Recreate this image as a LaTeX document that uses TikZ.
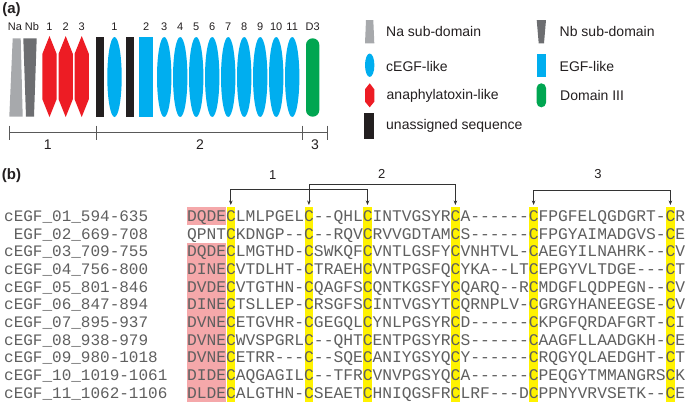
\documentclass[tikz,border=0pt]{standalone}
\usepackage{fontspec}
\setmainfont{Liberation Sans}
\setmonofont{Liberation Mono}
\usetikzlibrary{arrows.meta}
\definecolor{nagray}{RGB}{167,169,172}
\definecolor{nbgray}{RGB}{109,110,113}
\definecolor{anared}{RGB}{237,28,36}
\definecolor{egfblue}{RGB}{0,174,239}
\definecolor{dthreegreen}{RGB}{0,166,81}
\definecolor{unblack}{RGB}{35,31,32}
\definecolor{seqpink}{RGB}{245,168,170}
\definecolor{cysyellow}{RGB}{255,242,0}
\definecolor{seqgray}{RGB}{95,95,95}
\tikzset{
	panel/.style={inner sep=0pt, font=\bfseries\fontsize{15}{17}\selectfont, text=unblack},
	domlabel/.style={inner sep=0pt, font=\fontsize{11}{13}\selectfont, text=unblack},
	leglabel/.style={anchor=west, inner sep=0pt, font=\fontsize{14}{16}\selectfont, text=unblack},
	spanlabel/.style={inner sep=0pt, font=\fontsize{14}{16}\selectfont, text=unblack},
	bridgelabel/.style={inner sep=0pt, font=\fontsize{13}{15}\selectfont, text=unblack},
	seqname/.style={anchor=base west, inner sep=0pt, font=\ttfamily\fontsize{16}{18}\selectfont, text=seqgray},
	seqtext/.style={anchor=base west, inner sep=0pt, font=\ttfamily\fontsize{16.28}{18}\selectfont, text=seqgray},
	bond/.style={{Stealth[length=4.5pt,width=3.5pt]}-{Stealth[length=4.5pt,width=3.5pt]}, line width=0.7pt, draw=black!80},
	spanline/.style={line width=0.8pt, draw=black!65}
}

\begin{document}
\begin{tikzpicture}[x=1pt, y=-1pt]
			%%%%% START %%%%%
			\useasboundingbox (0, 0) rectangle (685, 410);
			
			%% (a) domain layout
			\node[panel] (pa) at (11.5, 10) {(a)};
			
			\fill[nagray] (12.7, 38.3) -- (20.7, 38.3) -- (22.7, 116.7) -- (9.3, 116.7) -- cycle;
			\fill[nbgray] (23.3, 38.3) -- (36.7, 38.3) -- (34, 116.7) -- (26, 116.7) -- cycle;
			
			\fill[anared] (49.5, 36) -- (56.7, 54) -- (56.7, 99) -- (49.5, 117) -- (42.3, 99) -- (42.3, 54) -- cycle;
			\fill[anared] (65.7, 36) -- (72.9, 54) -- (72.9, 99) -- (65.7, 117) -- (58.5, 99) -- (58.5, 54) -- cycle;
			\fill[anared] (81.7, 36) -- (88.9, 54) -- (88.9, 99) -- (81.7, 117) -- (74.5, 99) -- (74.5, 54) -- cycle;
			
			\fill[unblack] (96, 37) rectangle (104, 117);
			\fill[egfblue] (114.5, 77) ellipse [x radius=7.2, y radius=40];
			\fill[unblack] (126, 37) rectangle (134, 117);
			\fill[egfblue] (139.3, 37) rectangle (153.3, 117);
			
			\fill[egfblue] (164.2, 77) ellipse [x radius=7.2, y radius=40];
			\fill[egfblue] (180.2, 77) ellipse [x radius=7.2, y radius=40];
			\fill[egfblue] (196.2, 77) ellipse [x radius=7.2, y radius=40];
			\fill[egfblue] (212.2, 77) ellipse [x radius=7.2, y radius=40];
			\fill[egfblue] (228.2, 77) ellipse [x radius=7.2, y radius=40];
			\fill[egfblue] (244.2, 77) ellipse [x radius=7.2, y radius=40];
			\fill[egfblue] (260.2, 77) ellipse [x radius=7.2, y radius=40];
			\fill[egfblue] (276.2, 77) ellipse [x radius=7.2, y radius=40];
			\fill[egfblue] (292.2, 77) ellipse [x radius=7.2, y radius=40];
			
			\fill[dthreegreen, rounded corners=6.6] (306, 38.3) rectangle (319.3, 116.7);
			
			\node[domlabel] (lna) at (15, 27) {Na};
			\node[domlabel] (lnb) at (32, 27) {Nb};
			\node[domlabel] (lan1) at (49.5, 27) {1};
			\node[domlabel] (lan2) at (65.7, 27) {2};
			\node[domlabel] (lan3) at (81.7, 27) {3};
			\node[domlabel] (leg1) at (114.5, 27) {1};
			\node[domlabel] (leg2) at (146.3, 27) {2};
			\node[domlabel] (leg3) at (164.2, 27) {3};
			\node[domlabel] (leg4) at (180.2, 27) {4};
			\node[domlabel] (leg5) at (196.2, 27) {5};
			\node[domlabel] (leg6) at (212.2, 27) {6};
			\node[domlabel] (leg7) at (228.2, 27) {7};
			\node[domlabel] (leg8) at (244.2, 27) {8};
			\node[domlabel] (leg9) at (260.2, 27) {9};
			\node[domlabel] (leg10) at (276.2, 27) {10};
			\node[domlabel] (leg11) at (292.2, 27) {11};
			\node[domlabel] (ld3) at (312.7, 27) {D3};
			
			%% span line with its ticks
			\draw[spanline] (9.3, 132.7) -- (327.3, 132.7);
			\draw[spanline] (9.3, 125.7) -- (9.3, 139.7);
			\draw[spanline] (96, 125.7) -- (96, 139.7);
			\draw[spanline] (302, 125.7) -- (302, 139.7);
			\draw[spanline] (327.3, 125.7) -- (327.3, 139.7);
			\node[spanlabel] (sp1) at (47.7, 145) {1};
			\node[spanlabel] (sp2) at (200, 145) {2};
			\node[spanlabel] (sp3) at (315, 145) {3};
			
			%% legend
			\fill[nagray] (366, 20) -- (373.3, 20) -- (374.3, 43.3) -- (365, 43.3) -- cycle;
			\node[leglabel] (kna) at (386, 31) {Na sub-domain};
			\fill[nbgray] (536.7, 20) -- (546, 20) -- (544, 43.3) -- (538.7, 43.3) -- cycle;
			\node[leglabel] (knb) at (559.5, 31) {Nb sub-domain};
			
			\fill[egfblue] (369.7, 65.2) ellipse [x radius=4.7, y radius=11.7];
			\node[leglabel] (kcegf) at (386, 66.7) {cEGF-like};
			\fill[egfblue] (536.7, 54) rectangle (546, 76.7);
			\node[leglabel] (kegf) at (559.5, 66.7) {EGF-like};
			
			\fill[anared] (369.7, 83.3) -- (374.3, 89.3) -- (374.3, 101.7) -- (369.7, 107.3) -- (365, 101.7) -- (365, 89.3) -- cycle;
			\node[leglabel] (kana) at (386.5, 95.7) {anaphylatoxin-like};
			\fill[dthreegreen, rounded corners=4.6] (536.7, 83.3) rectangle (546, 107.3);
			\node[leglabel] (kd3) at (560, 95.7) {Domain III};
			
			\fill[unblack] (364, 113.3) rectangle (374, 139.3);
			\node[leglabel] (kun) at (386, 125.7) {unassigned sequence};
			
			%% (b) alignment
			\node[panel] (pb) at (11.5, 176) {(b)};
			
			\fill[seqpink] (186.8, 207.15) rectangle (225.9, 224.85);
			\fill[seqpink] (186.8, 242.55) rectangle (225.9, 401.85);
			
			\fill[cysyellow] (226.5, 207.15) rectangle (235.0, 401.85);
			\fill[cysyellow] (304.6, 207.15) rectangle (313.2, 401.85);
			\fill[cysyellow] (363.2, 207.15) rectangle (371.8, 401.85);
			\fill[cysyellow] (451.1, 207.15) rectangle (459.7, 401.85);
			\fill[cysyellow] (529.3, 207.15) rectangle (537.9, 401.85);
			\fill[cysyellow] (666.1, 207.15) rectangle (674.7, 401.85);
			
			\coordinate (cys5) at (230.8, 205);
			\coordinate (cys13) at (308.9, 205);
			\coordinate (cys19) at (367.5, 205);
			\coordinate (cys28) at (455.4, 205);
			\coordinate (cys36) at (533.6, 205);
			\coordinate (cys50) at (670.4, 205);
			\coordinate (br1) at (367.5, 189.3);
			\coordinate (br2) at (455.4, 184);
			\coordinate (br3) at (670.4, 190);
			
			\draw[bond] (cys5) |- (br1) -- (cys19);
			\draw[bond] (cys13) |- (br2) -- (cys28);
			\draw[bond] (cys36) |- (br3) -- (cys50);
			\node[bridgelabel] (bl1) at (272.7, 174.7) {1};
			\node[bridgelabel] (bl2) at (381.7, 174.2) {2};
			\node[bridgelabel] (bl3) at (598, 174) {3};
			
			\node[seqname] (n01) at (4, 221.3) {cEGF\_01\_594-635};
			\node[seqname] (n02) at (13.6, 239.0) {EGF\_02\_669-708};
			\node[seqname] (n03) at (4, 256.7) {cEGF\_03\_709-755};
			\node[seqname] (n04) at (4, 274.4) {cEGF\_04\_756-800};
			\node[seqname] (n05) at (4, 292.1) {cEGF\_05\_801-846};
			\node[seqname] (n06) at (4, 309.8) {cEGF\_06\_847-894};
			\node[seqname] (n07) at (4, 327.5) {cEGF\_07\_895-937};
			\node[seqname] (n08) at (4, 345.2) {cEGF\_08\_938-979};
			\node[seqname] (n09) at (4, 362.9) {cEGF\_09\_980-1018};
			\node[seqname] (n10) at (4, 380.6) {cEGF\_10\_1019-1061};
			\node[seqname] (n11) at (4, 398.3) {cEGF\_11\_1062-1106};
			
			\node[seqtext] (s01) at (186.8, 221.3) {DQDECLMLPGELC--QHLCINTVGSYRCA------CFPGFELQGDGRT-CR};
			\node[seqtext] (s02) at (186.8, 239.0) {QPNTCKDNGP--C--RQVCRVVGDTAMCS------CFPGYAIMADGVS-CE};
			\node[seqtext] (s03) at (186.8, 256.7) {DQDECLMGTHD-CSWKQFCVNTLGSFYCVNHTVL-CAEGYILNAHRK--CV};
			\node[seqtext] (s04) at (186.8, 274.4) {DINECVTDLHT-CTRAEHCVNTPGSFQCYKA--LTCEPGYVLTDGE---CT};
			\node[seqtext] (s05) at (186.8, 292.1) {DVDECVTGTHN-CQAGFSCQNTKGSFYCQARQ--RCMDGFLQDPEGN--CV};
			\node[seqtext] (s06) at (186.8, 309.8) {DINECTSLLEP-CRSGFSCINTVGSYTCQRNPLV-CGRGYHANEEGSE-CV};
			\node[seqtext] (s07) at (186.8, 327.5) {DVNECETGVHR-CGEGQLCYNLPGSYRCD------CKPGFQRDAFGRT-CI};
			\node[seqtext] (s08) at (186.8, 345.2) {DVNECWVSPGRLC--QHTCENTPGSYRCS------CAAGFLLAADGKH-CE};
			\node[seqtext] (s09) at (186.8, 362.9) {DVNECETRR---C--SQECANIYGSYQCY------CRQGYQLAEDGHT-CT};
			\node[seqtext] (s10) at (186.8, 380.6) {DIDECAQGAGILC--TFRCVNVPGSYQCA------CPEQGYTMMANGRSCK};
			\node[seqtext] (s11) at (186.8, 398.3) {DLDECALGTHN-CSEAETCHNIQGSFRCLRF---DCPPNYVRVSETK--CE};
			
			%%%%% END %%%%%
		\end{tikzpicture}
\end{document}
